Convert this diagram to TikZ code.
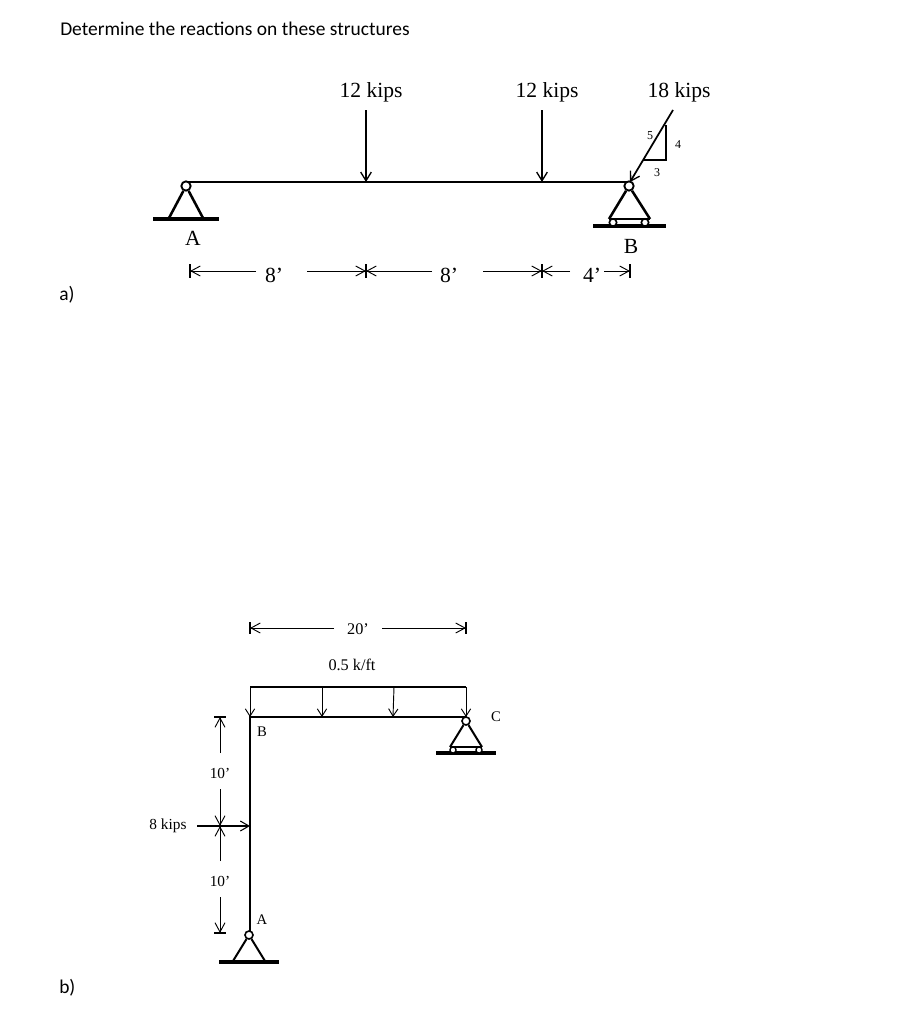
\documentclass[tikz,border=0pt]{standalone}
\usepackage{fontspec}
\setmainfont{Liberation Serif}
\newfontfamily\titlefont{Carlito}
\usetikzlibrary{arrows.meta}
\tikzset{
  member/.style={line width=2.1pt},
  memberthin/.style={line width=1.7pt},
  base/.style={line width=3pt},
  basethin/.style={line width=2.5pt},
  leg/.style={line width=1.9pt},
  legthin/.style={line width=1.5pt},
  pin/.style={circle,draw,fill=white,line width=1.4pt,minimum size=7pt,inner sep=0pt},
  pinthin/.style={circle,draw,fill=white,line width=1.2pt,minimum size=6pt,inner sep=0pt},
  roller/.style={circle,draw,fill=white,line width=1.2pt,minimum size=5.5pt,inner sep=0pt},
  rollerthin/.style={circle,draw,fill=white,line width=1pt,minimum size=4.6pt,inner sep=0pt},
  load/.style={line width=1.3pt,-{Straight Barb[length=6.5pt,width=8pt,line width=1pt]}},
  loadthin/.style={line width=.7pt,-{Straight Barb[length=5.5pt,width=7pt,line width=0.7pt]}},
  dim/.style={line width=.7pt,-{Straight Barb[length=7pt,width=7.5pt,line width=0.7pt]}},
  force/.style={line width=.9pt,-{Straight Barb[length=6.5pt,width=7.5pt,line width=0.8pt]}},
  tick/.style={line width=.9pt},
  thinline/.style={line width=.8pt},
  crossbar/.style={line width=1.1pt},
  pt/.style={coordinate},
  big/.style={inner sep=0pt,font=\fontsize{16.2}{18}\selectfont},
  mid/.style={inner sep=0pt,font=\fontsize{12.2}{15}\selectfont},
  small/.style={inner sep=0pt,font=\fontsize{11.5}{14}\selectfont},
  letter/.style={inner sep=0pt,font=\fontsize{11}{13}\selectfont},
  tiny/.style={inner sep=0pt,font=\fontsize{9}{11}\selectfont},
  plain/.style={inner sep=0pt,font=\titlefont\fontsize{14.6}{17}\selectfont},
}
\begin{document}
\begin{tikzpicture}[x=0.75pt,y=-0.75pt]
\useasboundingbox (0,0) rectangle (898,1024);
% texts
\node[plain,anchor=west] (title) at (60,29) {Determine the reactions on these structures};
\node[plain,anchor=west] (la) at (59,295) {a)};
\node[plain,anchor=west] (lb) at (59,988) {b)};
% ---------- structure a
\node[pt] (a1) at (186,182) {};
\node[pt] (a2) at (366,182) {};
\node[pt] (a3) at (542,182) {};
\node[pt] (a4) at (630,182) {};
\draw[member] (a1) -- (a4);
\node[pt] (al) at (169,218) {};
\node[pt] (ar) at (203,218) {};
\node[pt] (ab1) at (153,219) {};
\node[pt] (ab2) at (219,219) {};
\node[pin] (pa) at (186,186) {};
\draw[leg] (pa) -- (al);
\draw[leg] (pa) -- (ar);
\draw[base] (ab1) -- (ab2);
\node[big] (lA) at (193,238) {A};
% support B
\node[pt] (bl) at (609,219) {};
\node[pt] (br) at (650,219) {};
\node[pt] (bb1) at (593,226) {};
\node[pt] (bb2) at (666,226) {};
\node[pin] (pb) at (629,186) {};
\draw[leg] (pb) -- (bl);
\draw[leg] (pb) -- (br);
\draw[crossbar] (bl) -- (br);
\draw[base] (bb1) -- (bb2);
\node[roller] (r1) at (613,222.5) {};
\node[roller] (r2) at (645,222.5) {};
\node[big] (lB) at (631,246) {B};
% loads
\node[big] (k1) at (371,92) {12 kips};
\node[big] (k2) at (547,92) {12 kips};
\node[big] (k3) at (679,92) {18 kips};
\node[pt] (s1) at (366,110) {};
\node[pt] (s2) at (542,110) {};
\node[pt] (s3) at (673,110) {};
\node[pt] (e3) at (630,182) {};
\draw[load] (s1) -- (a2);
\draw[load] (s2) -- (a3);
\draw[load] (s3) -- (e3);
\node[pt] (t1) at (666,125) {};
\node[pt] (t2) at (666,160) {};
\node[pt] (t3) at (643,160) {};
\draw[thinline] (t1) -- (t2) -- (t3);
\node[tiny] (n5) at (650,136) {5};
\node[tiny] (n4) at (678,145) {4};
\node[tiny] (n3) at (657,173) {3};
% dimensions a
\node[pt] (d1t) at (190,264) {}; \node[pt] (d1b) at (190,278) {};
\node[pt] (d2t) at (366,264) {}; \node[pt] (d2b) at (366,278) {};
\node[pt] (d3t) at (542,264) {}; \node[pt] (d3b) at (542,278) {};
\node[pt] (d4t) at (630,264) {}; \node[pt] (d4b) at (630,278) {};
\draw[tick] (d1t) -- (d1b);
\draw[tick] (d2t) -- (d2b);
\draw[tick] (d3t) -- (d3b);
\draw[tick] (d4t) -- (d4b);
\node[pt] (d1) at (190,271) {};
\node[pt] (d2) at (366,271) {};
\node[pt] (d3) at (542,271) {};
\node[pt] (d4) at (630,271) {};
\node[big] (l8a) at (274,275) {8’};
\node[big] (l8b) at (449,275) {8’};
\node[big] (l4) at (592,275) {4’};
\node[pt] (g1) at (256,271) {};
\node[pt] (g2) at (307,271) {};
\node[pt] (g3) at (432,271) {};
\node[pt] (g4) at (483,271) {};
\node[pt] (g5) at (570,271) {};
\node[pt] (g6) at (604,271) {};
\draw[dim] (g1) -- (d1);
\draw[dim] (g2) -- (d2);
\draw[dim] (g3) -- (d2);
\draw[dim] (g4) -- (d3);
\draw[dim] (g5) -- (d3);
\draw[dim] (g6) -- (d4);
% ---------- structure b
\node[mid] (l20) at (358,629) {20’};
\node[mid] (lq) at (352,665) {0.5 k/ft};
\node[pt] (h1t) at (250,622) {}; \node[pt] (h1b) at (250,634) {};
\node[pt] (h2t) at (466,622) {}; \node[pt] (h2b) at (466,634) {};
\draw[tick] (h1t) -- (h1b);
\draw[tick] (h2t) -- (h2b);
\node[pt] (h1) at (250,628) {};
\node[pt] (h2) at (466,628) {};
\node[pt] (hg1) at (334,628) {};
\node[pt] (hg2) at (382,628) {};
\draw[dim] (hg1) -- (h1);
\draw[dim] (hg2) -- (h2);
% frame
\node[pt] (fB) at (250,717) {};
\node[pt] (fC) at (466,717) {};
\node[pt] (fA) at (250,932) {};
\draw[memberthin,line cap=rect] (fB) -- (fC);
\draw[memberthin,line cap=rect] (fB) -- (fA);
\node[letter] (lB2) at (262,732) {B};
\node[letter] (lC2) at (496,717) {C};
\node[letter] (lA2) at (262,920) {A};
% distributed load
\node[pt] (q1) at (250,687) {};
\node[pt] (q2) at (322,687) {};
\node[pt] (q3) at (394,687) {};
\node[pt] (q4) at (466,687) {};
\node[pt] (qe1) at (250,717) {};
\node[pt] (qe2) at (322,717) {};
\node[pt] (qe3) at (393,717) {};
\node[pt] (qe4) at (466,717) {};
\draw[thinline] (q1) -- (q4);
\draw[loadthin] (q1) -- (qe1);
\draw[loadthin] (q2) -- (qe2);
\draw[loadthin] (q3) -- (qe3);
\draw[loadthin] (q4) -- (qe4);
% support C
\node[pt] (cl) at (450,747) {};
\node[pt] (cr) at (482,747) {};
\node[pt] (cb1) at (436,753) {};
\node[pt] (cb2) at (496,753) {};
\node[pinthin] (pc) at (466,721) {};
\draw[legthin] (pc) -- (cl);
\draw[legthin] (pc) -- (cr);
\draw[crossbar] (cl) -- (cr);
\draw[basethin] (cb1) -- (cb2);
\node[rollerthin] (rc1) at (453,750) {};
\node[rollerthin] (rc2) at (479,750) {};
% support A
\node[pt] (el) at (233,961) {};
\node[pt] (er) at (265,961) {};
\node[pt] (eb1) at (219,962) {};
\node[pt] (eb2) at (279,962) {};
\node[pinthin] (pe) at (249,935) {};
\draw[legthin] (pe) -- (el);
\draw[legthin] (pe) -- (er);
\draw[basethin] (eb1) -- (eb2);
% dimensions b, vertical
\node[pt] (v1l) at (214,717) {}; \node[pt] (v1r) at (226,717) {};
\node[pt] (v3l) at (214,933) {}; \node[pt] (v3r) at (226,933) {};
\draw[tick] (v1l) -- (v1r);
\draw[tick] (v3l) -- (v3r);
\node[pt] (v1) at (220,717) {};
\node[pt] (v2) at (220,826) {};
\node[pt] (v3) at (220,933) {};
\node[pt] (vg1) at (220,753) {};
\node[pt] (vg2) at (220,789) {};
\node[pt] (vg3) at (220,861) {};
\node[pt] (vg4) at (220,897) {};
\draw[dim] (vg1) -- (v1);
\draw[dim] (vg2) -- (v2);
\draw[dim] (vg3) -- (v2);
\draw[dim] (vg4) -- (v3);
\node[small] (l10a) at (220,773) {10’};
\node[small] (l10b) at (220,881) {10’};
\node[small] (lk8) at (168,826) {8 kips};
\node[pt] (k8s) at (197,826) {};
\node[pt] (k8e) at (250,826) {};
\draw[force] (k8s) -- (k8e);
\end{tikzpicture}
\end{document}
